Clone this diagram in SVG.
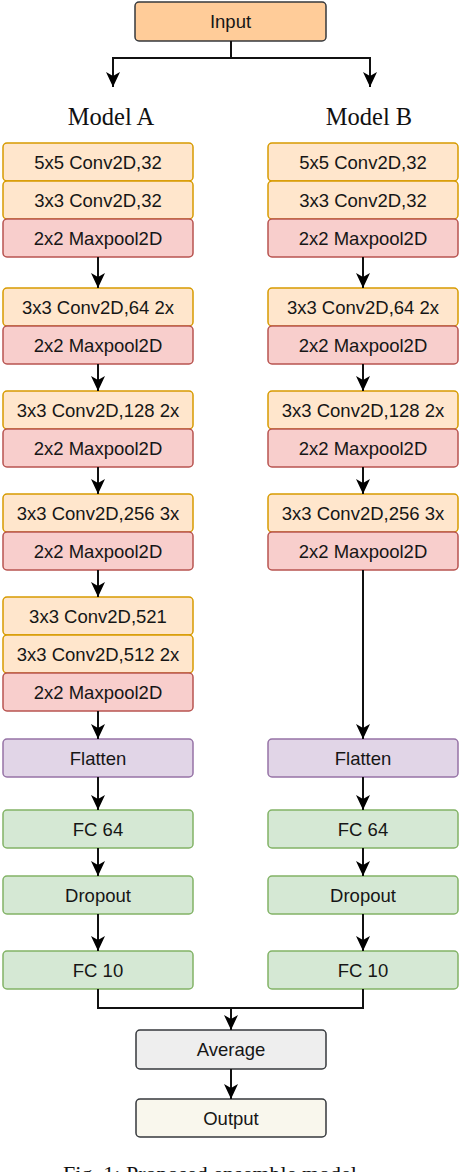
<svg xmlns="http://www.w3.org/2000/svg" width="460" height="1172" viewBox="0 0 460 1172">
<defs>
<marker id="ah" markerUnits="userSpaceOnUse" markerWidth="15" markerHeight="14" refX="15" refY="7" orient="auto">
<path d="M0,0 L15,7 L0,14 L4,7 z" fill="#000"/>
</marker>
<style>
.b{stroke-width:1.5}
.conv{fill:#ffe6cc;stroke:#d79b00}
.pool{fill:#f8cecc;stroke:#b85450}
.flat{fill:#e1d5e7;stroke:#9673a6}
.fc{fill:#d5e8d4;stroke:#82b366}
.inp{fill:#ffcc99;stroke:#36393d}
.avg{fill:#eeeeee;stroke:#36393d}
.out{fill:#f9f7ed;stroke:#36393d}
.t{font-family:"Liberation Sans",Arial,sans-serif;font-size:18.5px;fill:#161616;text-anchor:middle}
.h{font-family:"Liberation Serif","Times New Roman",serif;font-size:24.5px;fill:#111;text-anchor:middle}
.cap{font-family:"Liberation Serif","Times New Roman",serif;font-size:22px;fill:#111}
.c{fill:none;stroke:#111;stroke-width:2}
</style>
</defs>
<rect width="460" height="1172" fill="#fff"/>

<g id="input"><rect class="b inp" x="135" y="2" width="191" height="39" rx="4"/><text class="t" x="230.5" y="28">Input</text></g>

<text class="h" x="111" y="125">Model A</text>
<text class="h" x="369" y="125">Model B</text>

<g id="a1"><rect class="b conv" x="3" y="143" width="190" height="38" rx="4"/><text class="t" x="98" y="168.5">5x5 Conv2D,32</text></g>
<g id="a2"><rect class="b conv" x="3" y="181" width="190" height="38" rx="4"/><text class="t" x="98" y="206.5">3x3 Conv2D,32</text></g>
<g id="a3"><rect class="b pool" x="3" y="219" width="190" height="38" rx="4"/><text class="t" x="98" y="244.5">2x2 Maxpool2D</text></g>
<g id="a4"><rect class="b conv" x="3" y="288" width="190" height="38" rx="4"/><text class="t" x="98" y="313.5">3x3 Conv2D,64 2x</text></g>
<g id="a5"><rect class="b pool" x="3" y="326" width="190" height="38" rx="4"/><text class="t" x="98" y="351.5">2x2 Maxpool2D</text></g>
<g id="a6"><rect class="b conv" x="3" y="391" width="190" height="38" rx="4"/><text class="t" x="98" y="416.5">3x3 Conv2D,128 2x</text></g>
<g id="a7"><rect class="b pool" x="3" y="429" width="190" height="38" rx="4"/><text class="t" x="98" y="454.5">2x2 Maxpool2D</text></g>
<g id="a8"><rect class="b conv" x="3" y="494" width="190" height="38" rx="4"/><text class="t" x="98" y="519.5">3x3 Conv2D,256 3x</text></g>
<g id="a9"><rect class="b pool" x="3" y="532" width="190" height="38" rx="4"/><text class="t" x="98" y="557.5">2x2 Maxpool2D</text></g>
<g id="a10"><rect class="b conv" x="3" y="597" width="190" height="38" rx="4"/><text class="t" x="98" y="622.5">3x3 Conv2D,521</text></g>
<g id="a11"><rect class="b conv" x="3" y="635" width="190" height="38" rx="4"/><text class="t" x="98" y="660.5">3x3 Conv2D,512 2x</text></g>
<g id="a12"><rect class="b pool" x="3" y="673" width="190" height="38" rx="4"/><text class="t" x="98" y="698.5">2x2 Maxpool2D</text></g>
<g id="a13"><rect class="b flat" x="3" y="739" width="190" height="38" rx="4"/><text class="t" x="98" y="764.5">Flatten</text></g>
<g id="a14"><rect class="b fc" x="3" y="810" width="190" height="38" rx="4"/><text class="t" x="98" y="835.5">FC 64</text></g>
<g id="a15"><rect class="b fc" x="3" y="876" width="190" height="38" rx="4"/><text class="t" x="98" y="901.5">Dropout</text></g>
<g id="a16"><rect class="b fc" x="3" y="951" width="190" height="38" rx="4"/><text class="t" x="98" y="976.5">FC 10</text></g>

<g id="b1"><rect class="b conv" x="268" y="143" width="190" height="38" rx="4"/><text class="t" x="363" y="168.5">5x5 Conv2D,32</text></g>
<g id="b2"><rect class="b conv" x="268" y="181" width="190" height="38" rx="4"/><text class="t" x="363" y="206.5">3x3 Conv2D,32</text></g>
<g id="b3"><rect class="b pool" x="268" y="219" width="190" height="38" rx="4"/><text class="t" x="363" y="244.5">2x2 Maxpool2D</text></g>
<g id="b4"><rect class="b conv" x="268" y="288" width="190" height="38" rx="4"/><text class="t" x="363" y="313.5">3x3 Conv2D,64 2x</text></g>
<g id="b5"><rect class="b pool" x="268" y="326" width="190" height="38" rx="4"/><text class="t" x="363" y="351.5">2x2 Maxpool2D</text></g>
<g id="b6"><rect class="b conv" x="268" y="391" width="190" height="38" rx="4"/><text class="t" x="363" y="416.5">3x3 Conv2D,128 2x</text></g>
<g id="b7"><rect class="b pool" x="268" y="429" width="190" height="38" rx="4"/><text class="t" x="363" y="454.5">2x2 Maxpool2D</text></g>
<g id="b8"><rect class="b conv" x="268" y="494" width="190" height="38" rx="4"/><text class="t" x="363" y="519.5">3x3 Conv2D,256 3x</text></g>
<g id="b9"><rect class="b pool" x="268" y="532" width="190" height="38" rx="4"/><text class="t" x="363" y="557.5">2x2 Maxpool2D</text></g>
<g id="b13"><rect class="b flat" x="268" y="739" width="190" height="38" rx="4"/><text class="t" x="363" y="764.5">Flatten</text></g>
<g id="b14"><rect class="b fc" x="268" y="810" width="190" height="38" rx="4"/><text class="t" x="363" y="835.5">FC 64</text></g>
<g id="b15"><rect class="b fc" x="268" y="876" width="190" height="38" rx="4"/><text class="t" x="363" y="901.5">Dropout</text></g>
<g id="b16"><rect class="b fc" x="268" y="951" width="190" height="38" rx="4"/><text class="t" x="363" y="976.5">FC 10</text></g>

<g id="average"><rect class="b avg" x="136" y="1030" width="190" height="39" rx="4"/><text class="t" x="231" y="1056">Average</text></g>
<g id="output"><rect class="b out" x="136" y="1099" width="190" height="38" rx="4"/><text class="t" x="231" y="1124.5">Output</text></g>

<g id="connectors">
<path class="c" d="M231,41 V58 H113 V87" marker-end="url(#ah)"/>
<path class="c" d="M231,58 H370 V87" marker-end="url(#ah)"/>
<path class="c" d="M98,257 V288" marker-end="url(#ah)"/>
<path class="c" d="M98,364 V391" marker-end="url(#ah)"/>
<path class="c" d="M98,467 V494" marker-end="url(#ah)"/>
<path class="c" d="M98,570 V597" marker-end="url(#ah)"/>
<path class="c" d="M98,711 V739" marker-end="url(#ah)"/>
<path class="c" d="M98,777 V810" marker-end="url(#ah)"/>
<path class="c" d="M98,848 V876" marker-end="url(#ah)"/>
<path class="c" d="M98,914 V951" marker-end="url(#ah)"/>
<path class="c" d="M363,257 V288" marker-end="url(#ah)"/>
<path class="c" d="M363,364 V391" marker-end="url(#ah)"/>
<path class="c" d="M363,467 V494" marker-end="url(#ah)"/>
<path class="c" d="M363,570 V739" marker-end="url(#ah)"/>
<path class="c" d="M363,777 V810" marker-end="url(#ah)"/>
<path class="c" d="M363,848 V876" marker-end="url(#ah)"/>
<path class="c" d="M363,914 V951" marker-end="url(#ah)"/>
<path class="c" d="M98,989 V1008 H231 V1030" marker-end="url(#ah)"/>
<path class="c" d="M363,989 V1008 H231"/>
<path class="c" d="M231,1069 V1099" marker-end="url(#ah)"/>
</g>

<text class="cap" x="63" y="1181">Fig. 1: Proposed ensemble model</text>
</svg>
